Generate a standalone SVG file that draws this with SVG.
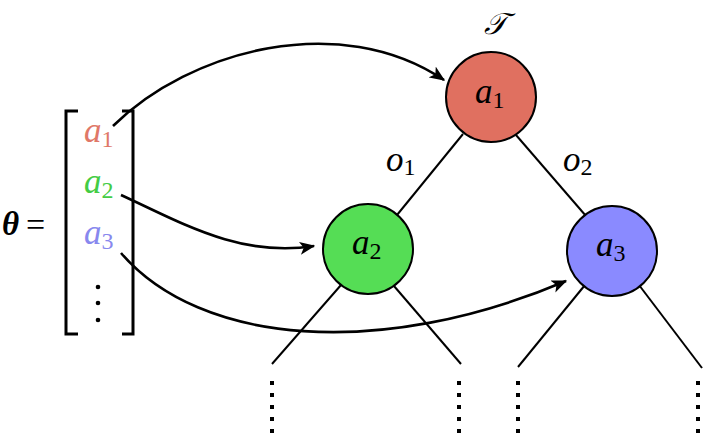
<svg xmlns="http://www.w3.org/2000/svg" width="703" height="439" viewBox="0 0 703 439">
<defs>
<style>
.m{font-family:"Liberation Serif","DejaVu Serif",serif;font-style:italic;font-size:35px}
.s{font-family:"Liberation Serif","DejaVu Serif",serif;font-style:normal;font-size:24px}
.node{stroke:#000;stroke-width:2}
.edge{stroke:#000;stroke-width:2;fill:none}
.br{stroke:#000;stroke-width:3;fill:none}
.arr{stroke:#000;stroke-width:2.6;fill:none;marker-end:url(#ah)}
.dot{fill:#000}
</style>
<marker id="ah" viewBox="0 0 12 10" refX="11" refY="5" markerWidth="6" markerHeight="5" orient="auto" markerUnits="strokeWidth">
<path d="M0,0 L12,5 L0,10 L3,5 Z" fill="#000"/>
</marker>
</defs>
<rect width="703" height="439" fill="#fff"/>

<g id="vector">
<text x="2" y="235" font-family="Liberation Serif,serif" font-style="italic" font-weight="bold" font-size="33">θ</text>
<text x="26" y="236" font-family="Liberation Serif,serif" font-size="34">=</text>
<path class="br" d="M78,111 H66 V334 H78"/>
<path class="br" d="M122,111 H133 V334 H122"/>
<text class="m" x="84" y="142" fill="#e07868">a<tspan class="s" dy="5">1</tspan></text>
<text class="m" x="84" y="193" fill="#44cc44">a<tspan class="s" dy="5">2</tspan></text>
<text class="m" x="84" y="244" fill="#8888ee">a<tspan class="s" dy="5">3</tspan></text>
<circle class="dot" cx="98" cy="287" r="2.3"/>
<circle class="dot" cx="98" cy="303" r="2.3"/>
<circle class="dot" cx="98" cy="320" r="2.3"/>
</g>

<g id="tree-edges">
<line class="edge" x1="463" y1="134" x2="397" y2="215"/>
<line class="edge" x1="516" y1="135" x2="586" y2="216"/>
<line class="edge" x1="341" y1="285" x2="272" y2="364"/>
<line class="edge" x1="394" y1="286" x2="461" y2="364"/>
<line class="edge" x1="585" y1="285" x2="518" y2="367"/>
<line class="edge" x1="639" y1="285" x2="702" y2="368"/>
</g>

<g id="connectors">
<path class="arr" d="M113,126 C190,50 340,10 444,80"/>
<path class="arr" d="M121,195 C180,222 240,258 314,246"/>
<path class="arr" d="M121,253 C200,345 380,360 566,281"/>
</g>

<g id="label-T">
<text x="495" y="34" text-anchor="middle" font-family="DejaVu Serif,Liberation Serif,serif" font-style="italic" font-size="30">𝒯</text>
</g>

<g id="node-a1">
<circle class="node" cx="491" cy="97" r="45" fill="#e07060"/>
<text class="m" x="475" y="103">a<tspan class="s" dy="5">1</tspan></text>
</g>
<g id="node-a2">
<circle class="node" cx="368" cy="249" r="45" fill="#55dd55"/>
<text class="m" x="352" y="254">a<tspan class="s" dy="5">2</tspan></text>
</g>
<g id="node-a3">
<circle class="node" cx="612" cy="251" r="45" fill="#8a8aff"/>
<text class="m" x="596" y="256">a<tspan class="s" dy="5">3</tspan></text>
</g>

<g id="label-o1"><text class="m" x="386" y="171">o<tspan class="s" dy="4">1</tspan></text></g>
<g id="label-o2"><text class="m" x="563" y="171">o<tspan class="s" dy="4">2</tspan></text></g>

<g id="dots">
<g fill="#000">
<rect x="270" y="381" width="4" height="4"/><rect x="270" y="393" width="4" height="4"/><rect x="270" y="405" width="4" height="4"/><rect x="270" y="417" width="4" height="4"/><rect x="270" y="429" width="4" height="4"/>
<rect x="457" y="381" width="4" height="4"/><rect x="457" y="393" width="4" height="4"/><rect x="457" y="405" width="4" height="4"/><rect x="457" y="417" width="4" height="4"/><rect x="457" y="429" width="4" height="4"/>
<rect x="516" y="381" width="4" height="4"/><rect x="516" y="393" width="4" height="4"/><rect x="516" y="405" width="4" height="4"/><rect x="516" y="417" width="4" height="4"/><rect x="516" y="429" width="4" height="4"/>
<rect x="696" y="381" width="4" height="4"/><rect x="696" y="393" width="4" height="4"/><rect x="696" y="405" width="4" height="4"/><rect x="696" y="417" width="4" height="4"/><rect x="696" y="429" width="4" height="4"/>
</g>
</g>
</svg>
